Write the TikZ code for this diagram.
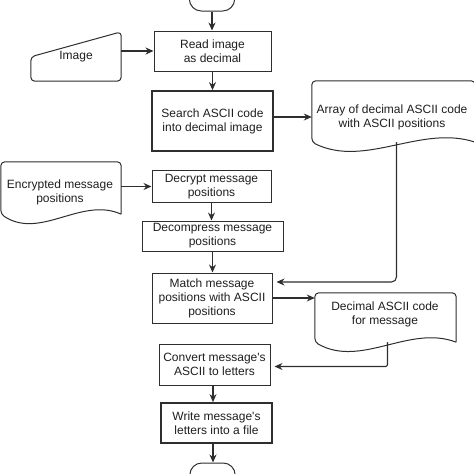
\documentclass[tikz,border=0pt]{standalone}
\usepackage{fontspec}
\setmainfont{Liberation Sans}
\usepackage{tikz}
\usetikzlibrary{calc,positioning,arrows.meta,shapes.misc}
\definecolor{flowline}{HTML}{2E2E2E}
\definecolor{flowtext}{HTML}{1E1E1E}

% outline of a document symbol drawn round an empty node
\newcommand{\docoutline}[1]{%
  \draw[flowline, line width=1pt, rounded corners=4pt]
    ([yshift=8pt]#1.south east) -- (#1.north east) -- (#1.north west)
    -- ([yshift=8pt]#1.south west) [sharp corners]
    .. controls ($(#1.south west)!0.33!(#1.south east)+(0,18)$)
    and ($(#1.south west)!0.67!(#1.south east)+(0,-26)$)
    .. ([yshift=8pt]#1.south east);}

\begin{document}
\begin{tikzpicture}[x=1pt, y=-1pt, >={Stealth[length=8pt,width=7pt]},
    font=\fontsize{12}{14}\selectfont,
    proc/.style={draw=flowline, text=flowtext, align=center, inner sep=0pt,
                 line width=1pt},
    boldproc/.style={proc, line width=1.7pt},
    term/.style={draw=flowline, rounded rectangle, minimum width=52,
                 minimum height=24, line width=1pt},
    outline/.style={inner sep=0pt, text=flowtext, align=center},
    conn/.style={->, draw=flowline, line width=1.1pt}]
  \useasboundingbox (0,0) rectangle (474,474);
  \clip (0,0) rectangle (474,474);

  % main column
  \node[term] (start) at (212,-1) {};
  \node[proc, minimum width=117, minimum height=40] (read) at (212.5,51)
        {Read image\\as decimal};
  \node[boldproc, minimum width=121, minimum height=60] (search) at (212.5,121)
        {Search ASCII code\\into decimal image};
  \node[proc, minimum width=119, minimum height=32] (dec) at (211.5,186.5)
        {Decrypt message\\positions};
  \node[proc, minimum width=141, minimum height=30] (decomp) at (212.5,236)
        {Decompress message\\positions};
  \node[proc, minimum width=120, minimum height=50] (match) at (212,298)
        {Match message\\positions with ASCII\\positions};
  \node[proc, minimum width=111, minimum height=41] (conv) at (214.5,364.5)
        {Convert message\textquotesingle s\\ASCII to letters};
  \node[boldproc, minimum width=111, minimum height=40] (write) at (216.5,423)
        {Write message\textquotesingle s\\letters into a file};
  \node[term] (stop) at (212.5,475) {};

  % inputs and outputs
  \node[outline, minimum width=90, minimum height=49] (img) at (76,56.5) {Image};
  \draw[flowline, line width=1pt, rounded corners=4pt] (img.south west)
        -- ([yshift=-25pt]img.north west) -- (img.north east)
        -- (img.south east) -- cycle;

  \node[outline, minimum width=163, minimum height=69] (arr) at (393.5,115.5) {};
  \docoutline{arr}
  \node[outline] (arrtxt) at (392,117)
        {Array of decimal ASCII code\\with ASCII positions};

  \node[outline, minimum width=120, minimum height=60] (enc) at (61,192) {};
  \docoutline{enc}
  \node[outline] (enctxt) at (60,192) {Encrypted message\\positions};

  \node[outline, minimum width=141, minimum height=57] (dmsg) at (385.5,321.5) {};
  \docoutline{dmsg}
  \node[outline] (dmsgtxt) at (385,314) {Decimal ASCII code\\for message};

  % connectors
  \draw[conn] (start.south) -- (start.south |- read.north);
  \draw[conn] (img.east |- read.west) -- (read.west);
  \draw[conn] (read.south) -- (read.south |- search.north);
  \draw[conn] ([yshift=4pt]search.east) -- ([yshift=4pt]search.east -| arr.west);
  \draw[conn, rounded corners=5pt] ([xshift=3pt,yshift=8pt]arr.south)
        |- ([xshift=4pt,yshift=16pt]match.east);
  \draw[conn] (enc.east |- dec.west) -- (dec.west);
  \draw[conn] (dec.south) -- (dec.south |- decomp.north);
  \draw[conn] (decomp.south) -- (decomp.south |- match.north);
  \draw[conn] (match.east) -- (match.east -| dmsg.west);
  \draw[conn, rounded corners=2pt] ([xshift=2pt,yshift=8pt]dmsg.south)
        |- ([xshift=4pt,yshift=-2pt]conv.east);
  \draw[conn] ([xshift=-1.5pt]conv.south) -- ([xshift=-1.5pt]conv.south |- write.north);
  \draw[conn] ([xshift=-3.5pt]write.south) -- ([xshift=-3.5pt]write.south |- stop.north);
\end{tikzpicture}
\end{document}
